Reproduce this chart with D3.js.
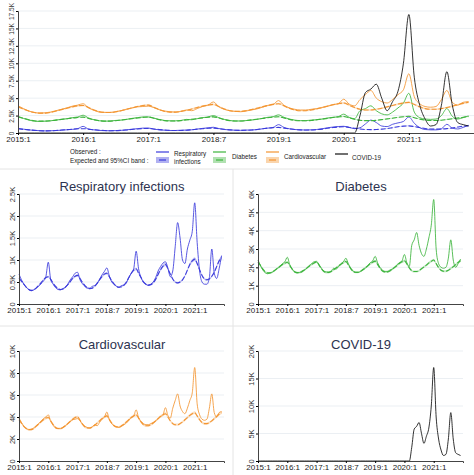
<!DOCTYPE html>
<html><head><meta charset="utf-8">
<script src="https://cdn.jsdelivr.net/npm/d3@7"></script>
<style>body{margin:0;background:#fff}svg{font-family:"Liberation Sans",Arial,sans-serif}</style>
</head><body><svg id="c" width="474" height="475"></svg>
<script>
// monthly values, 2015:1 .. 2021:12, in thousands
const tickLabels = ["2015:1","2016:1","2017:1","2018:7","2019:1","2020:1","2021:1"];
const tickIdx = [0,12,24,36,48,60,72];
const respObs = [.68,.55,.45,.38,.33,.30,.32,.36,.40,.46,.52,.62, .95,.55,.45,.37,.33,.32,.35,.38,.45,.55,.62,.70, .72,.55,.46,.40,.36,.36,.40,.42,.46,.56,.66,.74, .82,.64,.50,.45,.40,.38,.42,.43,.48,.60,.70,.80, 1.2,.80,.60,.50,.45,.42,.45,.50,.60,.75,.85,.93, .96,.82,.62,.75,1.3,1.85,1.5,1.0,.92,1.25,1.45,1.65, 2.3,1.4,.75,.5,.45,.45,.6,1.25,.7,.58,.8,1.1];
const respExp = [.58,.52,.45,.38,.33,.31,.32,.36,.42,.48,.55,.60, .62,.56,.47,.40,.35,.33,.34,.38,.44,.51,.58,.63, .65,.58,.49,.42,.37,.35,.36,.40,.47,.55,.62,.68, .70,.62,.53,.45,.40,.38,.39,.43,.50,.60,.70,.77, .80,.70,.60,.50,.45,.43,.44,.48,.56,.67,.78,.86, .90,.80,.68,.57,.50,.48,.50,.55,.64,.77,.90,.98, 1.02,.92,.78,.65,.57,.55,.57,.63,.72,.85,.98,1.05];
const diabObs = [2.4,2.1,1.85,1.7,1.65,1.7,1.75,1.85,1.95,2.05,2.2,2.3, 2.55,2.15,1.9,1.75,1.7,1.72,1.8,1.85,1.95,2.1,2.2,2.3, 2.3,2.15,1.95,1.8,1.75,1.75,1.8,1.95,1.9,2.05,2.2,2.3, 2.5,2.2,1.95,1.8,1.72,1.72,1.78,1.85,1.95,2.1,2.25,2.35, 2.6,2.25,2.0,1.85,1.78,1.78,1.85,1.9,2.0,2.15,2.25,2.35, 2.7,2.25,2.05,3.2,3.5,3.9,3.2,2.75,2.6,3.0,3.6,4.3, 5.7,3.0,2.2,2.0,1.95,2.0,2.5,3.5,2.4,2.0,2.2,2.45];
const diabExp = [2.3,2.1,1.9,1.75,1.7,1.7,1.75,1.85,1.95,2.05,2.15,2.22, 2.28,2.1,1.9,1.76,1.71,1.71,1.76,1.86,1.96,2.06,2.16,2.24, 2.3,2.12,1.92,1.77,1.72,1.72,1.77,1.87,1.97,2.07,2.17,2.26, 2.32,2.14,1.93,1.78,1.73,1.73,1.78,1.88,1.98,2.08,2.2,2.28, 2.34,2.16,1.95,1.8,1.75,1.75,1.8,1.9,2.0,2.1,2.22,2.3, 2.36,2.18,1.97,1.82,1.77,1.77,1.82,1.92,2.02,2.12,2.24,2.33, 2.4,2.2,1.99,1.84,1.79,1.79,1.84,1.94,2.04,2.15,2.27,2.36];
const cardObs = [3.9,3.5,3.15,2.95,2.85,2.9,3.0,3.2,3.4,3.6,3.85,4.0, 4.2,3.6,3.25,3.0,2.95,2.95,3.05,3.2,3.4,3.6,3.75,3.8, 3.85,3.65,3.35,3.15,3.05,3.0,3.1,3.3,3.2,3.5,3.8,4.0, 4.45,3.75,3.4,3.2,3.1,3.05,3.15,3.3,3.45,3.7,3.95,4.1, 4.65,3.95,3.6,3.4,3.3,3.3,3.4,3.5,3.65,3.85,4.05,4.2, 4.85,4.15,3.9,4.8,5.5,6.1,5.0,4.5,4.3,4.8,5.5,6.2, 8.5,5.2,4.2,3.8,3.7,3.8,4.8,6.1,4.4,4.0,4.4,4.5];
const cardExp = [3.75,3.45,3.15,2.95,2.85,2.85,2.95,3.15,3.35,3.55,3.75,3.9, 3.95,3.65,3.3,3.05,2.95,2.95,3.05,3.2,3.4,3.6,3.8,3.95, 4.0,3.7,3.35,3.1,3.0,3.0,3.1,3.25,3.45,3.65,3.85,4.0, 4.1,3.8,3.45,3.2,3.1,3.1,3.2,3.35,3.55,3.75,3.95,4.1, 4.2,3.9,3.55,3.3,3.2,3.2,3.3,3.45,3.65,3.85,4.05,4.2, 4.3,4.0,3.65,3.4,3.3,3.3,3.4,3.55,3.75,3.95,4.15,4.3, 4.4,4.1,3.75,3.5,3.4,3.4,3.5,3.65,3.85,4.05,4.25,4.4];
const covObs = [0,0,0,0,0,0,0,0,0,0,0,0, 0,0,0,0,0,0,0,0,0,0,0,0, 0,0,0,0,0,0,0,0,0,0,0,0, 0,0,0,0,0,0,0,0,0,0,0,0, 0,0,0,0,0,0,0,0,0,0,0,0, 0,0,0,2.5,5.8,6.3,7.0,5.0,3.2,4.5,6.0,10.0, 17.0,8.0,4.0,2.0,1.0,1.2,4.0,8.8,4.0,1.5,1.2,1.0];
const bandW = {resp:.04, diab:.03, card:.03};

const svg = d3.select("#c");
const C = {resp:"#3b3bdc", diab:"#3cb43c", card:"#f39531", cov:"#111"};
const N = respObs.length;

function panel(g, x0,x1,y0,y1, ymax, yticks, series, yfs){
  const x = d3.scaleLinear().domain([0,N]).range([x0,x1]);
  const y = d3.scaleLinear().domain([0,ymax]).range([y1,y0]);
  yticks.forEach(t=>{ if(t>0) g.append("line").attr("x1",x0).attr("x2",x1).attr("y1",y(t)).attr("y2",y(t)).attr("stroke","#e6ebf0").attr("stroke-width",0.8);});
  series.forEach(s=>{
    if(s.exp){
      g.append("path").datum(s.exp).attr("fill",s.c).attr("opacity",0.3)
        .attr("d",d3.area().x((d,i)=>x(i)).y0(d=>y(d*(1-s.bw))).y1(d=>y(d*(1+s.bw))).curve(d3.curveMonotoneX));
      g.append("path").datum(s.exp).attr("fill","none").attr("stroke",s.c).attr("stroke-width",1.1).attr("stroke-dasharray","5,2")
        .attr("d",d3.line().x((d,i)=>x(i)).y(d=>y(d)).curve(d3.curveMonotoneX));
    }
    g.append("path").datum(s.obs).attr("fill","none").attr("stroke",s.c).attr("stroke-width",1).attr("opacity",0.85)
      .attr("d",d3.line().x((d,i)=>x(i)).y(d=>y(d)).curve(d3.curveMonotoneX));
  });
  const ya = g.append("g").attr("transform",`translate(${x0},0)`).call(d3.axisLeft(y).tickValues(yticks).tickSize(2).tickFormat(d=>d===0?"0":d+"K"));
  ya.selectAll("text").attr("transform","rotate(-90)").attr("text-anchor","middle").attr("x",0).attr("y",-4).attr("dy","0em").attr("font-size",yfs||7.5).attr("fill","#333");
  ya.select(".domain").attr("stroke","#444");
  const xa = g.append("g").attr("transform",`translate(0,${y1})`).call(d3.axisBottom(x).tickValues(tickIdx).tickSize(2).tickFormat((d,i)=>tickLabels[i]));
  xa.selectAll("text").attr("font-size",8).attr("fill","#222").attr("dy","0.55em");
  xa.select(".domain").attr("stroke","#444");
}

panel(svg.append("g"),18,474,11,133,17.5,[0,2.5,5,7.5,10,12.5,15,17.5],[
  {obs:respObs,exp:respExp,c:C.resp,bw:bandW.resp},
  {obs:diabObs,exp:diabExp,c:C.diab,bw:bandW.diab},
  {obs:cardObs,exp:cardExp,c:C.card,bw:bandW.card},
  {obs:covObs,c:C.cov}], 6.5);

// legend
const lg = svg.append("g").attr("font-size",6.3);
lg.append("text").attr("x",70).attr("y",154).attr("fill","#222").text("Observed :");
lg.append("text").attr("x",70).attr("y",163).attr("fill","#222").text("Expected and 95%CI band :");
const items=[{c:C.resp,x:156,lab:["Respiratory","infections"],lx:174},{c:C.diab,x:213,lab:["Diabetes"],lx:232},{c:C.card,x:266,lab:["Cardiovascular"],lx:284},{c:C.cov,x:335,lab:["COVID-19"],lx:352,only:true}];
items.forEach(it=>{
  lg.append("line").attr("x1",it.x).attr("x2",it.x+13).attr("y1",it.only?154:152).attr("y2",it.only?154:152).attr("stroke",it.c).attr("stroke-width",1.2);
  if(!it.only){
    lg.append("rect").attr("x",it.x).attr("y",157).attr("width",13).attr("height",6).attr("fill",it.c).attr("opacity",0.4);
    lg.append("line").attr("x1",it.x+3).attr("x2",it.x+10).attr("y1",160).attr("y2",160).attr("stroke",it.c).attr("stroke-width",1.2);
  }
  if(it.lab.length==2){
    lg.append("text").attr("x",it.lx).attr("y",156).attr("fill","#222").text(it.lab[0]);
    lg.append("text").attr("x",it.lx).attr("y",164).attr("fill","#222").text(it.lab[1]);
  } else lg.append("text").attr("x",it.lx).attr("y",it.only?160:159).attr("fill","#222").text(it.lab[0]);
});
svg.append("line").attr("x1",0).attr("x2",474).attr("y1",169).attr("y2",169).attr("stroke","#e4e4e4");
svg.append("line").attr("x1",233).attr("x2",233).attr("y1",169).attr("y2",475).attr("stroke","#e4e4e4");
svg.append("line").attr("x1",0).attr("x2",474).attr("y1",326).attr("y2",326).attr("stroke","#e4e4e4");

function title(x,y,t){svg.append("text").attr("x",x).attr("y",y).attr("text-anchor","middle").attr("font-size",13).attr("fill","#2d3350").text(t);}
title(122,191,"Respiratory infections"); title(361,191,"Diabetes");
title(122,349,"Cardiovascular"); title(361,349,"COVID-19");

panel(svg.append("g"),19,224,194,304,2.5,[0,0.5,1,1.5,2,2.5],[{obs:respObs,exp:respExp,c:C.resp,bw:bandW.resp}]);
panel(svg.append("g"),258,463,194,304,6,[0,1,2,3,4,5,6],[{obs:diabObs,exp:diabExp,c:C.diab,bw:bandW.diab}]);
panel(svg.append("g"),19,224,351,461,10,[0,2,4,6,8,10],[{obs:cardObs,exp:cardExp,c:C.card,bw:bandW.card}]);
panel(svg.append("g"),258,463,351,461,20,[0,5,10,15,20],[{obs:covObs,c:C.cov}]);
</script></body></html>
